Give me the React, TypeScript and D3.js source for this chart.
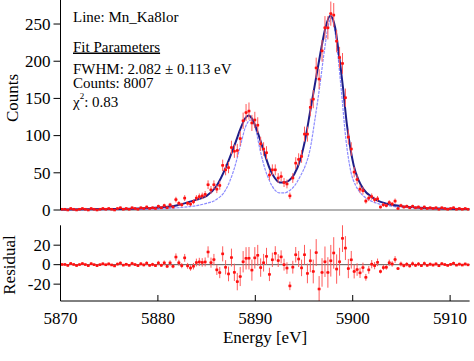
import React from "react";
import * as d3 from "d3";

// ---- data ----
const binStart = 5870.15;
const binStep = 0.3;

const counts = [
  1, 1, 0, 2, 1, 0, 1, 2, 1, 0, 2, 1, 0, 1, 2, 1, 2, 1, 0, 2,
  3, 1, 2, 1, 3, 2, 1, 3, 2, 4, 2, 3, 2, 5, 3, 6, 3, 7, 4, 14,
  9, 7, 16, 9, 8, 11, 16, 18, 19, 21, 34, 27, 34, 28, 33, 60, 54, 57, 84, 79,
  80, 96, 120, 131, 133, 117, 121, 114, 89, 82, 77, 47, 54, 54, 43, 45, 37, 35, 19, 43,
  63, 68, 72, 102, 102, 138, 149, 191, 176, 214, 245, 245, 264, 262, 227, 205, 197, 151, 98, 82,
  51, 41, 28, 26, 12, 16, 18, 14, 15, 4, 7, 6, 10, 8, 12, 2, 6, 4, 5, 3,
  5, 3, 4, 2, 4, 2, 3, 2, 3, 1, 3, 2, 1, 2, 3, 1, 2, 1, 2, 1,
];

const residuals = [
  0.2, 0.2, -0.8, 1.2, 0.2, -0.9, 0.1, 1.1, 0.1, -1, 1, 0, -1, 0, 0.9, -0.1, 0.8, -0.3, -1.3, 0.6,
  1.6, -0.5, 0.4, -0.7, 1.2, 0.1, -1, 0.9, -0.3, 1.5, -0.7, 0.2, -1, 1.7, -0.7, 1.8, -1.7, 1.8, -1.7, 7.8,
  2, -1, 7, -1.2, -3.4, -1.6, 2.2, 2.8, 2.3, 2.8, 13, 2.1, 5.2, -5.3, -8.1, 11.1, -2.7, -9.5, 7.3, -7.9,
  -17.4, -12.2, 3, 6.5, 6.6, -5.6, 7, 9.6, -3, 2, 8.5, -10, 5, 11.6, 4.2, 8, 0, -3.5, -21.8, -2.6,
  10.2, 5.8, -3.3, 10.2, -9, 4, -7, 12.4, -25, -8, 3, -8, 4, 12, -4.5, 3, 27, 17, -4, 5,
  -7, -5, -8.4, -3, -13, -5.3, 0.5, -1, 2.4, -7, -3, -2.7, 2, 0.7, 5.3, -4, 0.7, -1, 0.4, -1.3,
  1, -0.7, 0.7, -1, 1.2, -0.7, 0.5, -0.4, 0.75, -1.1, 1, 0.1, -0.8, 0.3, 1.4, -0.5, 0.55, -0.4, 0.7, -0.2,
];

// fitted model (dark)
const fitEnergy = [
  5870, 5875, 5878, 5880, 5882, 5883, 5884, 5885, 5886, 5887, 5888, 5888.5, 5889, 5889.3, 5889.7,
  5890.2, 5890.8, 5891.5, 5892, 5892.5, 5893, 5893.5, 5894, 5894.6, 5895.2, 5895.6, 5896.2, 5896.7,
  5897.2, 5897.7, 5898.2, 5898.5, 5899, 5899.4, 5899.8, 5900.1, 5900.6, 5901.1, 5902, 5902.5, 5903.5,
  5905, 5907, 5909, 5912,
];
const fitCounts = [
  0.8, 1.2, 2, 3.2, 6.5, 10, 14, 19, 32, 58, 92, 110, 124, 127, 122,
  106, 82, 55, 43, 37, 37, 40, 48, 67, 100, 130, 175, 212,
  245, 261, 245, 218, 165, 115, 80, 60, 40, 28, 17, 13, 8.5,
  5.2, 3, 2, 1.2,
];

// intrinsic line shape (light blue)
const lineEnergy = [
  5870, 5876, 5880, 5882, 5884, 5885, 5886, 5887, 5887.8, 5888.5, 5889, 5889.5, 5890, 5890.5, 5891,
  5891.5, 5892, 5892.5, 5893, 5893.5, 5894, 5894.6, 5895.2, 5895.6, 5896.1, 5896.6, 5897.1, 5897.5,
  5897.8, 5898.2, 5898.8, 5899.3, 5899.8, 5900.3, 5900.8, 5901.5, 5902.5, 5904, 5906, 5909, 5912,
];
const lineCounts = [
  0.3, 0.6, 1.5, 3, 6, 9, 14, 28, 54, 88, 112, 121, 110, 80, 55,
  38, 27, 23, 23, 26, 32, 45, 62, 80, 120, 165, 215, 248,
  258, 238, 165, 95, 52, 33, 23, 15, 9, 5, 3, 1.5, 0.8,
];

const energyTicks = [5870, 5880, 5890, 5900, 5910];
const countTicks = [0, 50, 100, 150, 200, 250];
const residualTicks = [-20, 0, 20];

const FONT = "'Liberation Serif', 'DejaVu Serif', serif";

export default function App() {
  const W = 474, H = 361;
  const x = d3.scaleLinear().domain([5870, 5912]).range([60.5, 469.6]);
  const y = d3.scaleLinear().domain([0, 282.3]).range([210, 0]);
  const yr = d3.scaleLinear().domain([-37.3, 40.4]).range([301, 225.3]);

  const pts = counts.map((c, i) => ({
    e: binStart + binStep * i,
    c,
    r: residuals[i],
    err: Math.sqrt(Math.max(c, 1)),
  }));

  const fitLine = d3
    .line<number>()
    .x((_, i) => x(fitEnergy[i]))
    .y((d) => y(d))
    .curve(d3.curveMonotoneX);
  const shapeLine = d3
    .line<number>()
    .x((_, i) => x(lineEnergy[i]))
    .y((d) => y(d))
    .curve(d3.curveMonotoneX);

  const hw = (x(binStart + binStep) - x(binStart)) / 2;
  const left = x(5870);
  const right = x(5912);

  return (
    <svg
      width={W}
      height={H}
      style={{ position: "absolute", left: 0, top: 0, background: "#fff" }}
      fontFamily={FONT}
    >
      <defs>
        <clipPath id="resClip">
          <rect x={left} y={yr(40.4)} width={right - left} height={yr(-37.3) - yr(40.4)} />
        </clipPath>
        <clipPath id="mainClip">
          <rect x={left} y={0} width={right - left} height={y(0) + 2} />
        </clipPath>
      </defs>

      {/* main panel */}
      <line x1={left} x2={right} y1={y(0)} y2={y(0)} stroke="#9a9a9a" strokeWidth={1.5} />
      <g clipPath="url(#mainClip)">
        <path d={shapeLine(lineCounts) || ""} fill="none" stroke="#8c8cff" strokeWidth={1.2} strokeDasharray="3,1" />
        <path d={fitLine(fitCounts) || ""} fill="none" stroke="#1e1e8a" strokeWidth={2} />
        {pts.map((p, i) => (
          <g key={i}>
            <line x1={x(p.e)} x2={x(p.e)} y1={y(p.c - p.err)} y2={y(p.c + p.err)} stroke="#ff5a5a" strokeWidth={1} />
            <line x1={x(p.e) - hw} x2={x(p.e) + hw} y1={y(p.c)} y2={y(p.c)} stroke="#ff3030" strokeWidth={1} />
            <rect x={x(p.e) - 1.3} y={y(p.c) - 1.3} width={2.6} height={2.6} fill="#ff1010" />
          </g>
        ))}
      </g>
      <line x1={left} x2={left} y1={0} y2={y(0)} stroke="#000" strokeWidth={1} />
      {countTicks.map((t) => (
        <g key={t}>
          <line x1={left - 7} x2={left} y1={y(t)} y2={y(t)} stroke="#000" strokeWidth={1} />
          <text x={50.5} y={y(t)} dy="0.34em" textAnchor="end" fontSize={17}>
            {t}
          </text>
        </g>
      ))}
      <text transform={`translate(18,${98}) rotate(-90)`} textAnchor="middle" fontSize={17}>
        Counts
      </text>

      {/* annotation */}
      <text x={73} y={21.5} fontSize={15}>Line: Mn_Ka8lor</text>
      <text x={73} y={51.5} fontSize={15} textDecoration="underline">Fit Parameters</text>
      <text x={73} y={73.5} fontSize={15}>FWHM: 2.082 ± 0.113 eV</text>
      <text x={73} y={88} fontSize={15}>Counts: 8007</text>
      <text x={73} y={106.5} fontSize={15}>
        χ<tspan dy={-8} fontSize={9}>2</tspan>
        <tspan dy={8}>: 0.83</tspan>
      </text>

      {/* residual panel */}
      <line x1={left} x2={right} y1={yr(0)} y2={yr(0)} stroke="#555" strokeWidth={1} />
      <g clipPath="url(#resClip)">
        {pts.map((p, i) => (
          <g key={i}>
            <line x1={x(p.e)} x2={x(p.e)} y1={yr(p.r - p.err)} y2={yr(p.r + p.err)} stroke="#ff5a5a" strokeWidth={1} />
            <line x1={x(p.e) - hw} x2={x(p.e) + hw} y1={yr(p.r)} y2={yr(p.r)} stroke="#ff3030" strokeWidth={1} />
            <rect x={x(p.e) - 1.3} y={yr(p.r) - 1.3} width={2.6} height={2.6} fill="#ff1010" />
          </g>
        ))}
      </g>
      <line x1={left} x2={left} y1={yr(40.4)} y2={yr(-37.3)} stroke="#000" strokeWidth={1} />
      {residualTicks.map((t) => (
        <g key={t}>
          <line x1={left - 7} x2={left} y1={yr(t)} y2={yr(t)} stroke="#000" strokeWidth={1} />
          <text x={50.5} y={yr(t)} dy="0.34em" textAnchor="end" fontSize={17}>
            {t}
          </text>
        </g>
      ))}
      <text transform={`translate(15,${265}) rotate(-90)`} textAnchor="middle" fontSize={17}>
        Residual
      </text>

      {/* energy axis */}
      <line x1={left} x2={right} y1={yr(-37.3)} y2={yr(-37.3)} stroke="#000" strokeWidth={1} />
      {energyTicks.map((t) => (
        <g key={t}>
          <line x1={x(t)} x2={x(t)} y1={yr(-37.3)} y2={yr(-37.3) - 6} stroke="#000" strokeWidth={1} />
          <text x={x(t)} y={324} textAnchor="middle" fontSize={17}>
            {t}
          </text>
        </g>
      ))}
      <text x={265} y={343} textAnchor="middle" fontSize={17}>
        Energy [eV]
      </text>
    </svg>
  );
}
